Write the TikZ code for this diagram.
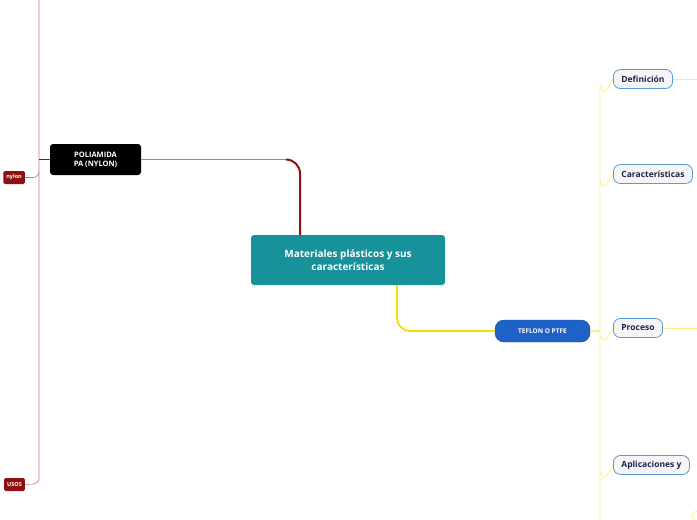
\documentclass[tikz,border=0pt]{standalone}
\usepackage{fontspec}
\setmainfont{Open Sans}
\definecolor{teal1}{HTML}{17919A}
\definecolor{dred}{HTML}{8E1010}
\definecolor{lred}{HTML}{C87878}
\definecolor{yel}{HTML}{FFEE88}
\definecolor{yel2}{HTML}{F5E000}
\definecolor{blu}{HTML}{1E62C8}
\definecolor{lblu}{HTML}{5A9AD8}
\definecolor{navy}{HTML}{1A2550}
\begin{document}
\begin{tikzpicture}[x=1pt,y=-1pt,
 sub/.style={draw=lblu,line width=0.8pt,fill=gray!8,rounded corners=7pt,minimum height=19pt,inner xsep=8pt,anchor=west,font=\bfseries\fontsize{8.5}{10}\selectfont,text=navy},
 tag/.style={fill=dred,rounded corners=1.5pt,text=white,font=\bfseries\fontsize{5.5}{6}\selectfont,minimum height=13pt,inner xsep=3pt}]
\useasboundingbox (0,0) rectangle (697,520);
\begin{scope}
\clip (0,0) rectangle (697,520);
% left red structure
\draw[lred,line width=0.6pt] (39,0) -- (39,478) arc[start angle=0,end angle=90,radius=6] coordinate (u1);
\node[tag,anchor=east] (usos) at (25,484.5) {USOS};
\node[tag,anchor=east] (nylon) at (25,177.5) {nylon};
\draw[lred,line width=0.6pt] (nylon.east) -- (33,177.5) arc[start angle=90,end angle=0,radius=6];
\draw[lred,line width=0.6pt] (u1) -- (usos.east);
\node[fill=black,rounded corners=3pt,text=white,font=\bfseries\fontsize{7.5}{9}\selectfont,align=center,minimum width=91pt,minimum height=31pt] (poli) at (95.5,159.5) {POLIAMIDA\\PA (NYLON)};
\draw[dred,line width=1.2pt] (39,159.5) -- (poli.west);
\node[fill=teal1,rounded corners=3pt,text=white,font=\bfseries\fontsize{10}{13}\selectfont,align=center,minimum width=194pt,minimum height=50pt] (mat) at (348,260) {Materiales plásticos y sus\\características};
\draw[lred,line width=0.6pt] (poli.east) -- (286,159.5);
\draw[dred,line width=2pt] (286,159.5) arc[start angle=-90,end angle=0,radius=14] -- (300,235);
% yellow
\node[fill=blu,draw=blu!70!black,rounded corners=9pt,text=white,font=\bfseries\fontsize{6.5}{8}\selectfont,minimum width=95pt,minimum height=22pt] (tef) at (542.5,331) {TEFLON O PTFE};
\draw[yel2,line width=1.8pt] (397,285) -- (397,318) arc[start angle=180,end angle=90,radius=13] -- (tef.west);
\draw[yel,line width=1.2pt] (tef.east) -- (600,331);
\draw[yel,line width=0.8pt] (600,520) -- (600,85) arc[start angle=180,end angle=90,radius=6] -- (613,79);
\foreach \y in {174,328,465}{\draw[yel,line width=0.8pt] (600,\y+6) arc[start angle=180,end angle=90,radius=6] -- (613,\y);}
\node[sub] (def) at (613,79) {Definición};
\node[sub] (car) at (613,174) {Características};
\node[sub] (pro) at (613,328) {Proceso};
\node[sub] (apl) at (613,465) {Aplicaciones y};
\draw[yel,line width=0.8pt] (def.east) -- (697,79);
\draw[yel,line width=0.8pt] (pro.east) -- (697,328);
\draw[yel,line width=0.8pt] (697,516) circle (5);
\end{scope}
\end{tikzpicture}
\end{document}
